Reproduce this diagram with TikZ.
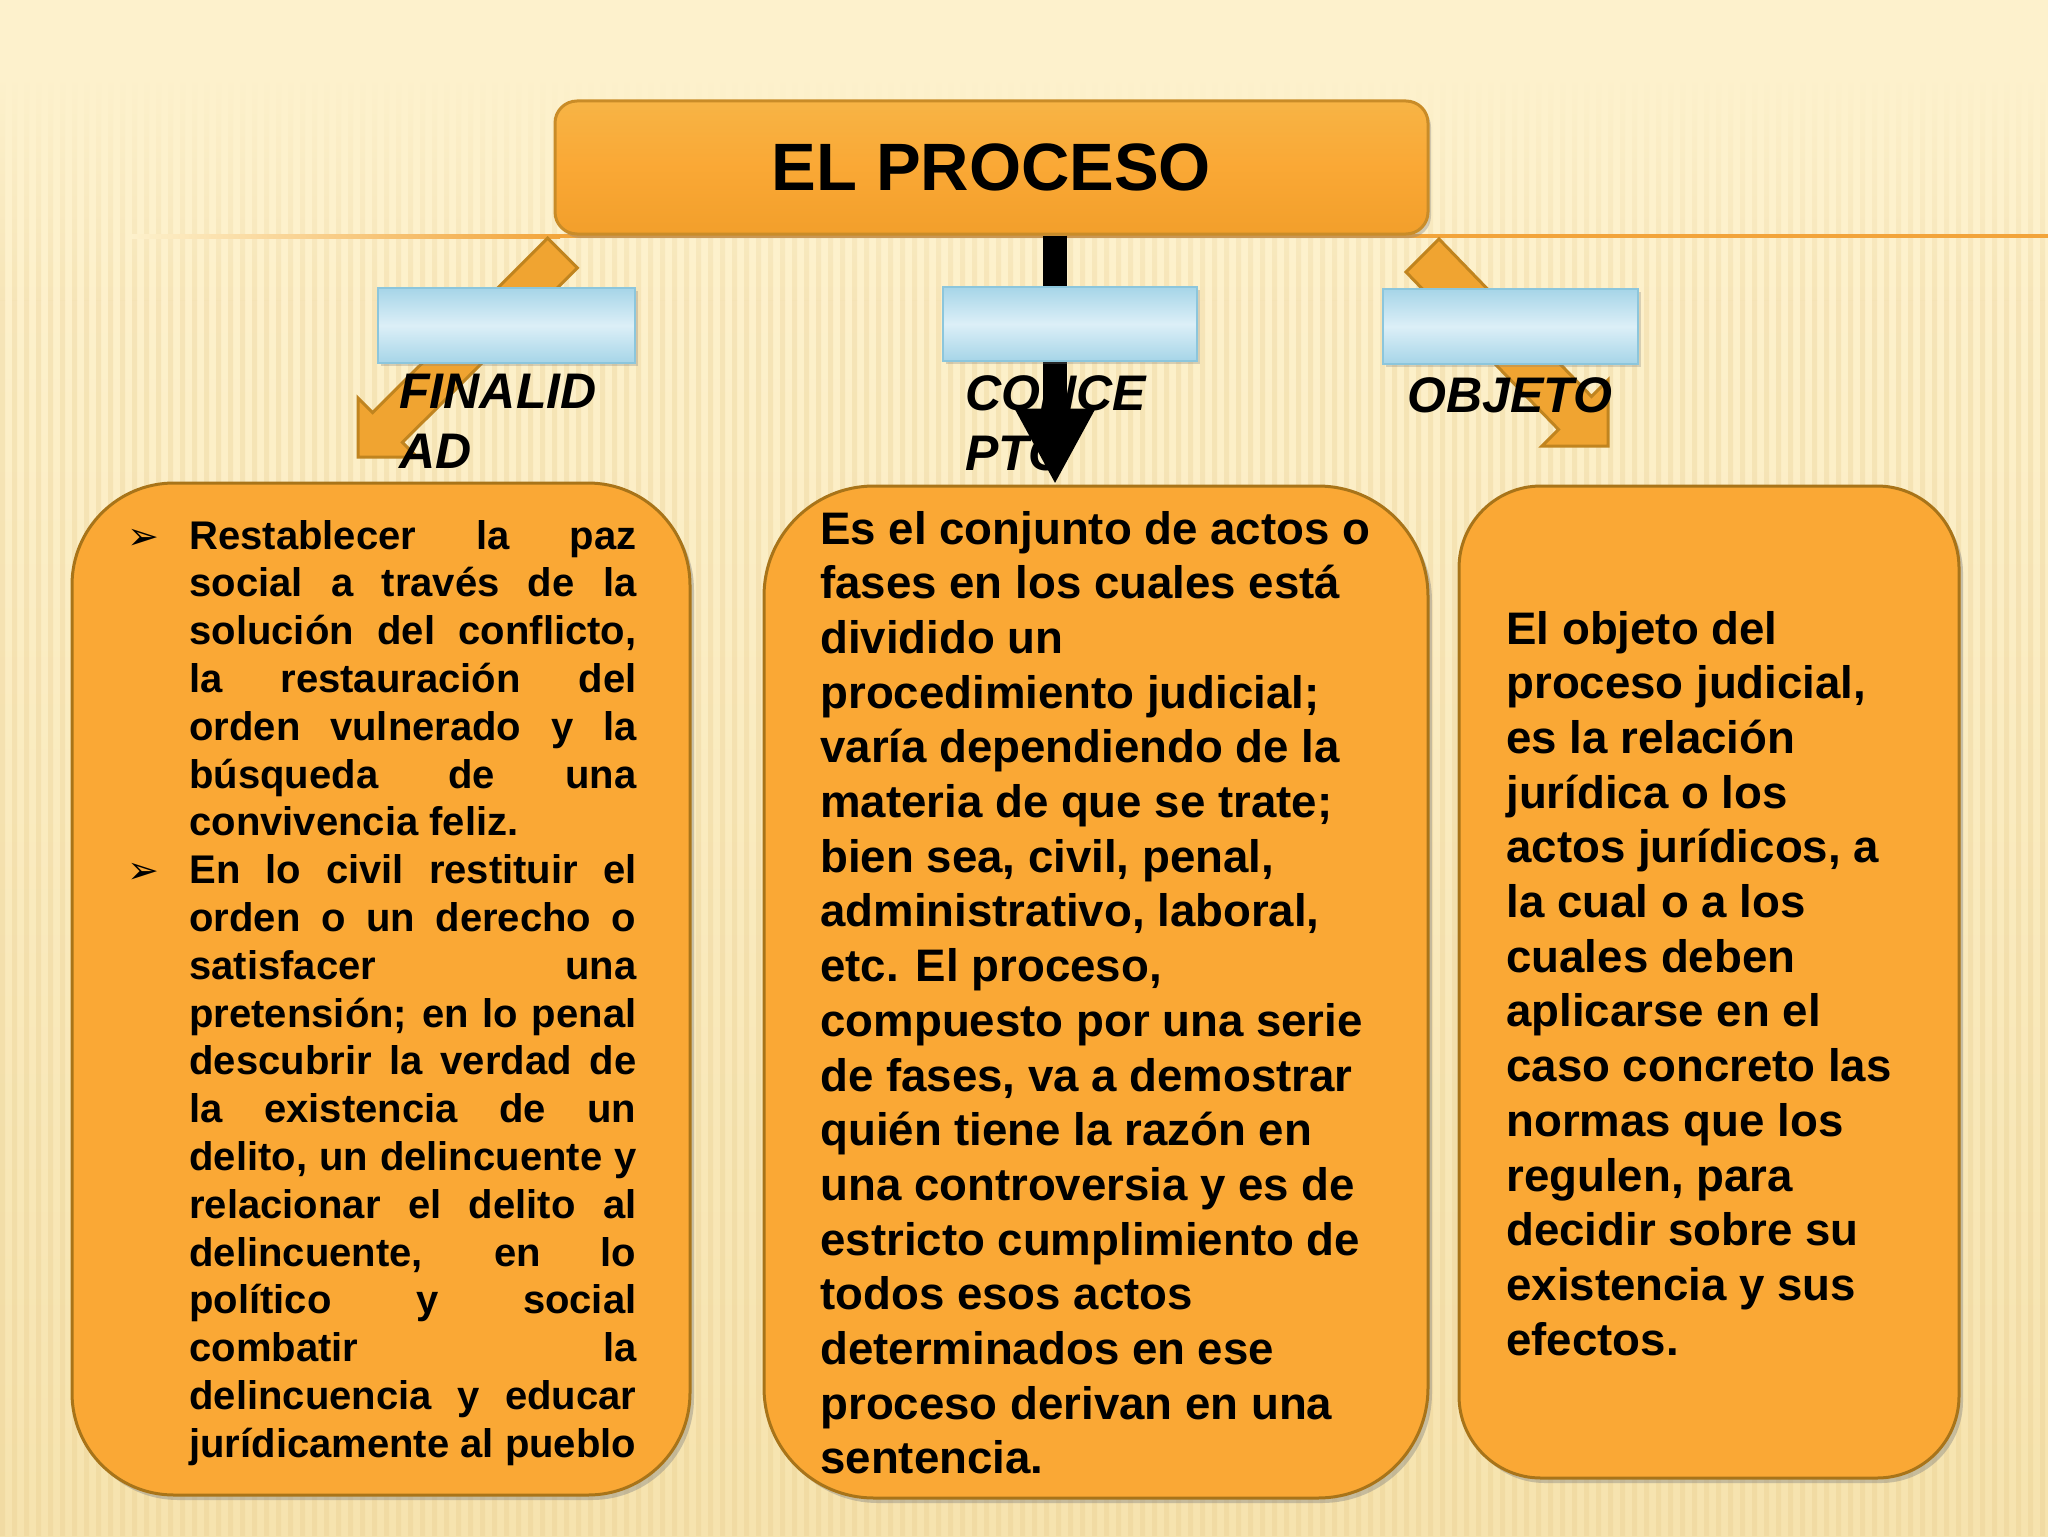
\documentclass[tikz,border=0pt]{standalone}
\usepackage{fontspec}
\setmainfont{Liberation Sans}
\newfontfamily\dejavu{DejaVu Sans}
\usetikzlibrary{arrows.meta,shadows}
\definecolor{bgtop}{HTML}{FDF1CC}
\definecolor{bgbot}{HTML}{F6E3AE}
\definecolor{stripe}{HTML}{E6C887}
\definecolor{orfill}{HTML}{FAA835}
\definecolor{oredge}{HTML}{A87419}
\definecolor{ttop}{HTML}{F7B445}
\definecolor{tbot}{HTML}{F29F2B}
\definecolor{tedge}{HTML}{C98C28}
\definecolor{arfill}{HTML}{F0A431}
\definecolor{aredge}{HTML}{C0841F}
\definecolor{blueA}{HTML}{A6D5E8}
\definecolor{blueB}{HTML}{DCEFF7}
\definecolor{blueE}{HTML}{8CC6DC}
\definecolor{hline}{HTML}{F2A43A}
\newcommand\txl[1]{\hbox{#1}}
\newcommand\jsl[1]{\hbox to \hsize{#1}}
\newcommand\bul{\llap{\makebox[31pt][l]{\dejavu\fontsize{19}{19}\selectfont ➢}}}
\hbadness=10000
\begin{document}
\begin{tikzpicture}[x=0.5pt,y=-0.5pt,
  bigbox/.style={draw=oredge, line width=1.5pt, fill=orfill, inner sep=0pt,
    drop shadow={shadow xshift=2pt,shadow yshift=-2.5pt,opacity=0.4}},
  titlebox/.style={draw=tedge, line width=1.5pt, top color=ttop, bottom color=tbot,
    middle color=orfill, rounded corners=11pt, inner sep=0pt,
    minimum width=436.5pt, minimum height=66.5pt,
    font=\fontsize{33.5}{40}\selectfont\bfseries,
    drop shadow={shadow xshift=1.5pt,shadow yshift=-2pt,opacity=0.35}},
  bluebox/.style={draw=blueE, line width=0.75pt, top color=blueA, bottom color=blueA,
    middle color=blueB, inner sep=0pt,
    drop shadow={shadow xshift=1.5pt,shadow yshift=-1.5pt,opacity=0.3}},
  lab/.style={font=\fontsize{25}{30}\selectfont\bfseries\itshape, inner sep=0pt, anchor=base west},
  bodyL/.style={font=\fontsize{20}{23.9}\selectfont\bfseries, inner sep=0pt, anchor=base west},
  bodyM/.style={font=\fontsize{22.8}{27.35}\selectfont\bfseries, inner sep=0pt, anchor=base west},
  orarrow/.style={fill=arfill, draw=aredge, line width=1.5pt, line join=miter},
  blk/.style={black, line width=12pt, -{Triangle[length=38pt,width=37.5pt]}}
]
\useasboundingbox (0,0) rectangle (2048,1536);
% background
\fill[bgtop] (0,0) rectangle (2048,1536);
\shade[top color=bgtop, bottom color=bgbot] (0,240) rectangle (2048,1536);
\shade[top color=bgtop, bottom color=stripe, opacity=0.28]
  \foreach \x in {0,12,...,2040}{(\x,80) rectangle ++(5,220)};
\fill[stripe, opacity=0.28]
  \foreach \x in {0,12,...,2040}{(\x,300) rectangle ++(5,1236)};
% horizontal line
\shade[left color=bgtop, right color=hline] (130,234) rectangle (560,238);
\fill[hline] (560,234) rectangle (2048,238);
% orange block arrows
\draw[orarrow] (547.6,238.2) -- (577.4,267.9) -- (402.4,442.4) -- (417,457) -- (358,457) -- (358,398) -- (372.6,412.6) -- cycle;
\draw[orarrow] (1439,239) -- (1406,272) -- (1558.5,429.5) -- (1542,446) -- (1608,446) -- (1608,380) -- (1591.5,396.5) -- cycle;
% title
\node[titlebox] (title) at (991.5,167.5) {EL PROCESO};
% bottom boxes
\node[bigbox, minimum width=309pt, minimum height=506pt, rounded corners=51pt] (boxL) at (381,989) {};
\node[bigbox, minimum width=332pt, minimum height=506pt, rounded corners=55pt] (boxM) at (1096,992) {};
\node[bigbox, minimum width=250pt, minimum height=496pt, rounded corners=41pt] (boxR) at (1709,982) {};
% labels
\node[lab] (labF) at (399,408) {\vtop{\txl{FINALID}\txl{AD}}};
\node[lab] (labC) at (965,410) {\vtop{\txl{CONCE}\txl{PTO}}};
\node[lab] (labO) at (1407,412) {OBJETO};
% black connector
\coordinate (bx) at (1055,0);
\draw[blk] (title.south -| bx) -- (boxM.north -| bx);
% blue boxes
\node[bluebox, minimum width=128.5pt, minimum height=37.5pt] (blueL) at (506.5,325.5) {};
\node[bluebox, minimum width=127pt, minimum height=37pt] (blueM) at (1070,324) {};
\node[bluebox, minimum width=127.5pt, minimum height=37.5pt] (blueR) at (1510.5,326.5) {};
% texts
\node[bodyL] (txtL) at (189,549) {\vtop{\hsize=223.5pt
\jsl{\bul Restablecer la paz}
\jsl{social a través de la}
\jsl{solución del conflicto,}
\jsl{la restauración del}
\jsl{orden vulnerado y la}
\jsl{búsqueda de una}
\jsl{convivencia feliz.\hfil}
\jsl{\bul En lo civil restituir el}
\jsl{orden o un derecho o}
\jsl{satisfacer una}
\jsl{pretensión; en lo penal}
\jsl{descubrir la verdad de}
\jsl{la existencia de un}
\jsl{delito, un delincuente y}
\jsl{relacionar el delito al}
\jsl{delincuente, en lo}
\jsl{político y social}
\jsl{combatir la}
\jsl{delincuencia y educar}
\jsl{jurídicamente al pueblo\hfil}}};
\node[bodyM] (txtM) at (820,544) {\vtop{
\txl{Es el conjunto de actos o}
\txl{fases en los cuales está}
\txl{dividido un}
\txl{procedimiento judicial;}
\txl{varía dependiendo de la}
\txl{materia de que se trate;}
\txl{bien sea, civil, penal,}
\txl{administrativo, laboral,}
\txl{etc. El proceso,}
\txl{compuesto por una serie}
\txl{de fases, va a demostrar}
\txl{quién tiene la razón en}
\txl{una controversia y es de}
\txl{estricto cumplimiento de}
\txl{todos esos actos}
\txl{determinados en ese}
\txl{proceso derivan en una}
\txl{sentencia.}}};
\node[bodyM] (txtR) at (1506,644) {\vtop{
\txl{El objeto del}
\txl{proceso judicial,}
\txl{es la relación}
\txl{jurídica o los}
\txl{actos jurídicos, a}
\txl{la cual o a los}
\txl{cuales deben}
\txl{aplicarse en el}
\txl{caso concreto las}
\txl{normas que los}
\txl{regulen, para}
\txl{decidir sobre su}
\txl{existencia y sus}
\txl{efectos.}}};
\end{tikzpicture}
\end{document}
